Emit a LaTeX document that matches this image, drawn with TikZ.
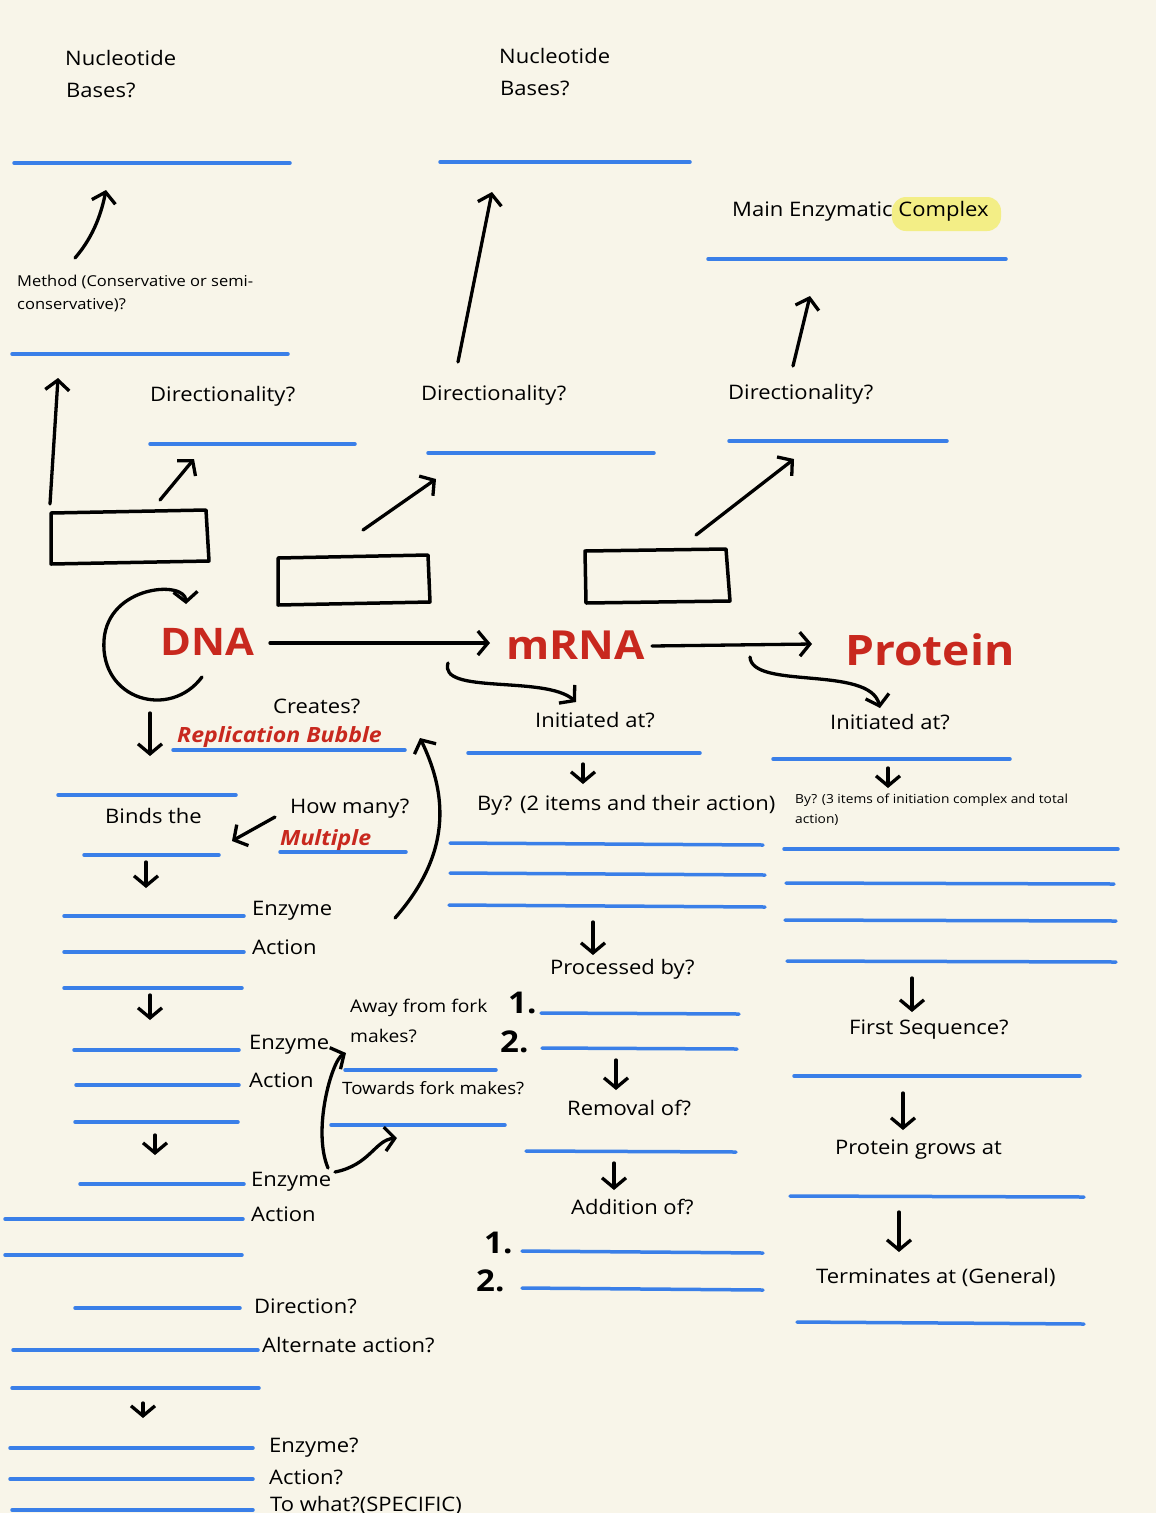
\documentclass[tikz,border=0pt]{standalone}
\usepackage{fontspec}
\setmainfont{Open Sans}[FakeStretch=1.1]
\usetikzlibrary{arrows.meta}
\definecolor{bg}{HTML}{F8F5E9}
\definecolor{bl}{HTML}{3A7FE8}
\definecolor{rd}{HTML}{C8281E}
\definecolor{hl}{HTML}{F3EE86}
\begin{document}
\begin{tikzpicture}[x=1pt,y=-1pt,
  bline/.style={bl,line width=3.5pt,line cap=round},
  arr/.style={black,line width=3.3pt,line cap=round,line join=round,-{Straight Barb[length=10pt,width=24pt,line width=3.3pt]}},
  box/.style={black,line width=3.5pt,line join=round},
  t/.style={anchor=west,inner sep=0pt,font=\fontsize{20}{20}\selectfont},
  ts/.style={anchor=west,inner sep=0pt,font=\fontsize{15}{15}\selectfont},
  big/.style={anchor=west,inner sep=0pt,text=rd,font=\fontsize{44}{44}\selectfont\bfseries},
  red/.style={anchor=west,inner sep=0pt,text=rd,font=\fontsize{21}{21}\selectfont\itshape\bfseries},
  num/.style={anchor=west,inner sep=0pt,font=\fontsize{30}{30}\selectfont\bfseries}]
\fill[bg] (0,0) rectangle (1156,1513);
\useasboundingbox (0,0) rectangle (1156,1513);
% highlight
\fill[hl,rounded corners=14pt] (892,197) rectangle (1001,231);
% blue lines
\foreach \a/\b/\c/\d in {14/163/290/163, 440/162/690/162, 708/259/1006/259, 12/354/288/354,
 150/444/355/444, 428/453/654/453, 729/441/947/441, 468/753/700/753, 773/759/1010/759,
 173/750/405/750, 58/795/236/795, 84/855/219/855, 280/852/406/852,
 64/916/244/916, 64/952/244/952, 64/988/242/988, 74/1050/239/1050, 76/1085/239/1085, 75/1122/238/1122,
 80/1184/244/1184, 5/1219/243/1219, 5/1255/242/1255, 75/1308/240/1308, 13/1350/258/1350, 12/1388/259/1388,
 10/1448/253/1448, 10/1479/253/1479, 12/1510/253/1510,
 450/843/763/845, 450/873/765/875, 449/905/765/907, 541/1013/739/1014, 542/1048/737/1049,
 345/1070/496/1070, 331/1125/505/1125, 526/1151/736/1152, 522/1251/763/1253, 522/1288/763/1290,
 784/849/1118/849, 786/883/1114/884, 785/920/1116/921, 787/961/1116/962,
 794/1076/1080/1076, 790/1196/1084/1197, 797/1322/1084/1324}
 \draw[bline] (\a,\b) -- (\c,\d);
% boxes
\draw[box] (51,513) -- (206,510) -- (209,561) -- (51,564) -- cycle;
\draw[box] (278,558) -- (428,555) -- (430,602) -- (278,605) -- cycle;
\draw[box] (585,551) -- (726,549) -- (730,601) -- (586,603) -- cycle;
% texts
\node[t] (n1) at (65,58) {Nucleotide};
\node[t] (n2) at (66,90) {Bases?};
\node[t] (n3) at (499,56) {Nucleotide};
\node[t] (n4) at (500,88) {Bases?};
\node[t] (mec) at (732,211) {Main Enzymatic Complex};
\node[ts] (m1) at (17,282) {Method (Conservative or semi-};
\node[ts] (m2) at (17,305) {conservative)?};
\node[t] (d1) at (150,396) {Directionality?};
\node[t] (d2) at (421,395) {Directionality?};
\node[t] (d3) at (728,394) {Directionality?};
\node[big,font=\fontsize{38}{38}\selectfont\bfseries] (dna) at (160,642) {DNA};
\node[big,font=\fontsize{40}{40}\selectfont\bfseries] (mrna) at (506,645) {mRNA};
\node[big,font=\fontsize{42}{42}\selectfont\bfseries] (prot) at (845,650) {Protein};
\node[t] (cr) at (273,706) {Creates?};
\node[red] (rb) at (177,737) {Replication Bubble};
\node[t] (i1) at (535,720) {Initiated at?};
\node[t] (i2) at (830,722) {Initiated at?};
\node[t] (by1) at (477,805) {By? (2 items and their action)};
\node[ts,font=\fontsize{12.5}{12.5}\selectfont] (by2) at (795,800) {By? (3 items of initiation complex and total};
\node[ts,font=\fontsize{12.5}{12.5}\selectfont] (by3) at (795,820) {action)};
\node[t] (bt) at (105,816) {Binds the};
\node[t] (hm) at (290,809) {How many?};
\node[red] (mu) at (280,840) {Multiple};
\node[t] (e1) at (252,911) {Enzyme};
\node[t] (a1) at (252,947) {Action};
\node[t] (e2) at (249,1045) {Enzyme};
\node[t] (a2) at (249,1080) {Action};
\node[t] (e3) at (251,1182) {Enzyme};
\node[t] (a3) at (251,1214) {Action};
\node[ts,font=\fontsize{17.5}{17.5}\selectfont] (af) at (350,1008) {Away from fork};
\node[ts,font=\fontsize{17.5}{17.5}\selectfont] (mk) at (350,1036) {makes?};
\node[ts,font=\fontsize{17}{17}\selectfont] (tf) at (342,1088) {Towards fork makes?};
\node[t] (pb) at (550,969) {Processed by?};
\node[num] (p1) at (508,1003) {1.};
\node[num] (p2) at (500,1042) {2.};
\node[t] (ro) at (567,1108) {Removal of?};
\node[t] (ao) at (571,1207) {Addition of?};
\node[num] (q1) at (484,1243) {1.};
\node[num] (q2) at (476,1281) {2.};
\node[t] (fs) at (849,1030) {First Sequence?};
\node[t] (pg) at (835,1150) {Protein grows at};
\node[t] (ta) at (816,1277) {Terminates at (General)};
\node[t] (dir) at (254,1306) {Direction?};
\node[t] (alt) at (262,1345) {Alternate action?};
\node[t] (ez) at (269,1448) {Enzyme?};
\node[t] (ac) at (269,1477) {Action?};
\node[t] (tw) at (270,1505) {To what?(SPECIFIC)};
% arrows
\draw[arr] (75,258) .. controls (95,235) and (102,210) .. (106,190);
\draw[arr] (458,362) -- (492,192);
\draw[arr] (793,366) -- (810,296);
\draw[arr] (50,504) -- (58,378);
\draw[arr] (160,500) -- (194,459);
\draw[arr] (363,530) -- (436,479);
\draw[arr] (696,535) -- (794,459);
\draw[arr] (270,643) -- (490,643);
\draw[arr] (652,646) -- (812,644);
\draw[arr] (202,677) .. controls (170,720) and (100,700) .. (104,640) .. controls (108,585) and (185,580) .. (186,604);
\draw[arr] (150,713) -- (150,756);
\draw[arr] (275,817) -- (232,841);
\draw[arr] (395,918) .. controls (455,850) and (445,790) .. (420,738);
\draw[arr] (448,663) .. controls (438,695) and (545,675) .. (576,702);
\draw[arr] (750,657) .. controls (752,690) and (870,665) .. (880,708);
\foreach \x/\a/\b in {146/862/888, 150/995/1020, 155/1135/1155, 143/1403/1418, 583/764/784,
  593/922/955, 616/1060/1090, 614/1163/1190, 888/768/788, 912/978/1012, 903/1093/1130, 899/1212/1252}
  \draw[arr] (\x,\a) -- (\x,\b);
\draw[arr] (328,1168) .. controls (312,1130) and (332,1060) .. (346,1053);
\draw[arr] (335,1172) .. controls (370,1165) and (375,1140) .. (397,1138);
\end{tikzpicture}
\end{document}
